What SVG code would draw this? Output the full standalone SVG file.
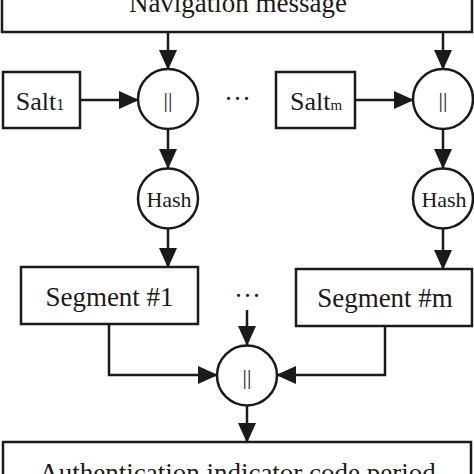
<svg xmlns="http://www.w3.org/2000/svg" width="474" height="474" viewBox="0 0 474 474">
<style>
.box{fill:#fff;stroke:#1a1a1a;stroke-width:2.5}
.op{fill:#fff;stroke:#1a1a1a;stroke-width:2.5}
.ln{fill:none;stroke:#1a1a1a;stroke-width:2.5}
.t{font-family:"Liberation Serif","Times New Roman",serif;fill:#1a1a1a;text-anchor:middle}
.big{font-size:27px}
.sym{font-size:22px}
.hash{font-size:22px}
</style>
<defs>
<marker id="ah" viewBox="0 0 20 18" refX="19" refY="9" markerWidth="20" markerHeight="18" markerUnits="userSpaceOnUse" orient="auto">
<path d="M0,0 L20,9 L0,18 Z" fill="#1a1a1a"/>
</marker>
</defs>
<rect width="474" height="474" fill="#fff"/>

<g id="connectors">
<path class="ln" d="M168,33 V69" marker-end="url(#ah)"/>
<path class="ln" d="M443,33 V69" marker-end="url(#ah)"/>
<path class="ln" d="M80,100 H138" marker-end="url(#ah)"/>
<path class="ln" d="M355,100 H413" marker-end="url(#ah)"/>
<path class="ln" d="M168,129 V168" marker-end="url(#ah)"/>
<path class="ln" d="M443,129 V168" marker-end="url(#ah)"/>
<path class="ln" d="M168,228 V267" marker-end="url(#ah)"/>
<path class="ln" d="M443,228 V269" marker-end="url(#ah)"/>
<path class="ln" d="M109,324 V375 H217" marker-end="url(#ah)"/>
<path class="ln" d="M385,326 V375 H277" marker-end="url(#ah)"/>
<path class="ln" d="M247,310 V345" marker-end="url(#ah)"/>
<path class="ln" d="M247,405 V442" marker-end="url(#ah)"/>
</g>

<g id="nav">
<rect class="box" x="2" y="-20" width="470" height="52"/>
<text class="t big" x="238" y="12">Navigation message</text>
</g>

<g id="salt1">
<rect class="box" x="3" y="72" width="77" height="56"/>
<text class="t" x="40" y="110" style="font-size:26px"><tspan>Salt</tspan><tspan style="font-size:16px">1</tspan></text>
</g>

<g id="concat1">
<circle class="op" cx="168" cy="99" r="30"/>
<text class="t sym" x="168" y="107">||</text>
</g>

<g id="dots1">
<text class="t big" x="237.5" y="108">···</text>
</g>

<g id="saltm">
<rect class="box" x="276" y="72" width="79" height="56"/>
<text class="t" x="316" y="110" style="font-size:26px"><tspan>Salt</tspan><tspan style="font-size:15px">m</tspan></text>
</g>

<g id="concatm">
<circle class="op" cx="443" cy="99" r="30"/>
<text class="t sym" x="443" y="107">||</text>
</g>

<g id="hash1">
<circle class="op" cx="168" cy="198.5" r="30"/>
<text class="t hash" x="169" y="207">Hash</text>
</g>

<g id="hashm">
<circle class="op" cx="443" cy="198.5" r="30"/>
<text class="t hash" x="444" y="207">Hash</text>
</g>

<g id="seg1">
<rect class="box" x="21" y="267" width="177" height="57"/>
<text class="t big" x="109.5" y="306">Segment #1</text>
</g>

<g id="dots2">
<text class="t big" x="247.5" y="305">···</text>
</g>

<g id="segm">
<rect class="box" x="296" y="269" width="176" height="57"/>
<text class="t big" x="385" y="307">Segment #m</text>
</g>

<g id="concatall">
<circle class="op" cx="247" cy="375.5" r="30"/>
<text class="t sym" x="247" y="384">||</text>
</g>

<g id="auth">
<rect class="box" x="3" y="442" width="468" height="60"/>
<text class="t big" x="237.5" y="482">Authentication indicator code period</text>
</g>
</svg>
